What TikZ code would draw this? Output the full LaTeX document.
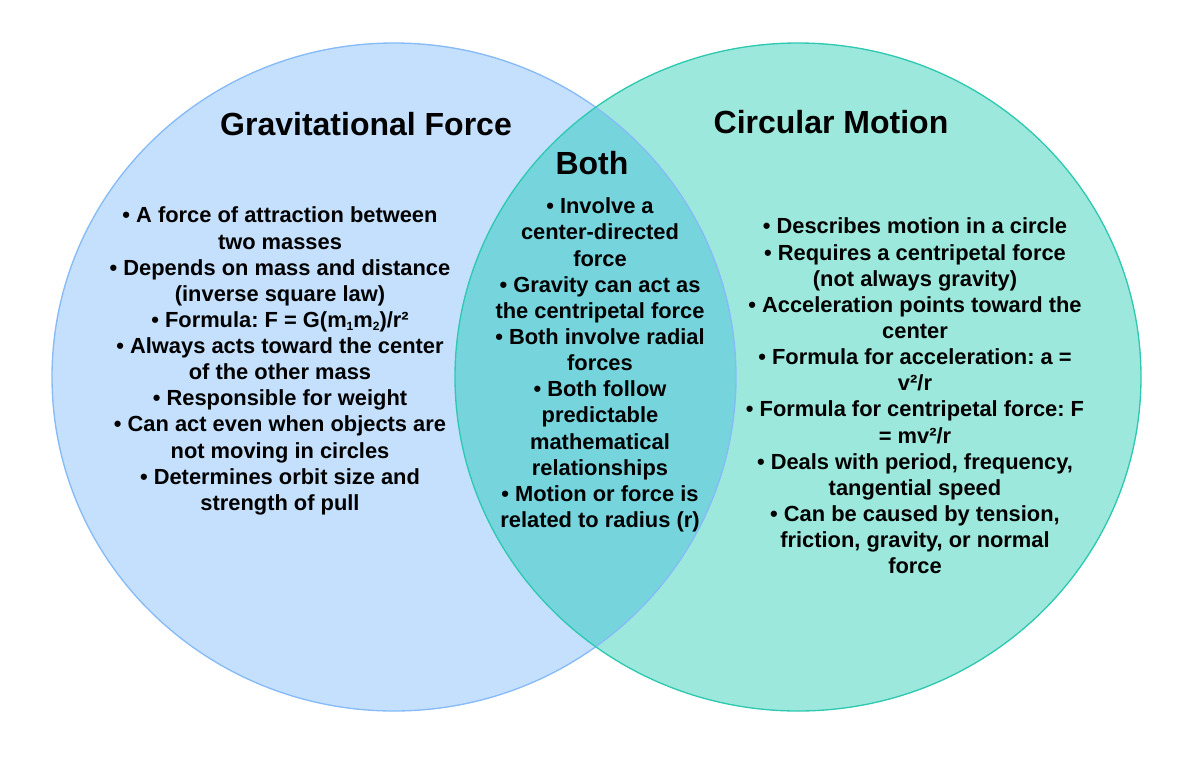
\documentclass[tikz,border=0pt]{standalone}
\usepackage{fontspec}
\setmainfont{Liberation Sans}
\frenchspacing
\definecolor{leftfill}{HTML}{C5E0FC}
\definecolor{leftline}{HTML}{86BBF7}
\definecolor{rightfill}{HTML}{9DE8DC}
\definecolor{rightline}{HTML}{2EC9B0}
\definecolor{bothfill}{HTML}{76D4DD}
\newcommand\sbs[1]{\raisebox{-0.3ex}{\fontsize{9}{9}\selectfont #1}}
\tikzset{
  titletext/.style={font=\fontsize{24}{27}\selectfont\bfseries, inner sep=0pt},
  bodytext/.style={font=\fontsize{16.4}{19.6}\selectfont\bfseries, align=center, inner sep=0pt},
}
\begin{document}
\begin{tikzpicture}[x=0.75pt,y=-0.75pt]
\useasboundingbox (0,0) rectangle (1200,776);
% fills
\fill[leftfill] (394,377) ellipse [x radius=342, y radius=334];
\fill[rightfill] (798,377) ellipse [x radius=343, y radius=334];
\begin{scope}
  \clip (394,377) ellipse [x radius=342, y radius=334];
  \fill[bothfill] (798,377) ellipse [x radius=343, y radius=334];
\end{scope}
% outlines
\draw[leftline, line width=1pt] (394,377) ellipse [x radius=342, y radius=334];
\draw[rightline, line width=1pt] (798,377) ellipse [x radius=343, y radius=334];
% titles
\node[titletext] (gtitle) at (366,124) {Gravitational Force};
\node[titletext] (btitle) at (592,163) {Both};
\node[titletext] (ctitle) at (831,122) {Circular Motion};
% bodies
\node[bodytext] (gbody) at (280,361) {%
• A force of attraction between\\
two masses\\
• Depends on mass and distance\\
(inverse square law)\\
• Formula: F = G(m\sbs{1}m\sbs{2})/r²\\
• Always acts toward the center\\
of the other mass\\
• Responsible for weight\\
• Can act even when objects are\\
not moving in circles\\
• Determines orbit size and\\
strength of pull};
\node[bodytext] (bbody) at (600,365) {%
• Involve a\\
center-directed\\
force\\
• Gravity can act as\\
the centripetal force\\
• Both involve radial\\
forces\\
• Both follow\\
predictable\\
mathematical\\
relationships\\
• Motion or force is\\
related to radius (r)};
\node[bodytext] (cbody) at (915,396) {%
• Describes motion in a circle\\
• Requires a centripetal force\\
(not always gravity)\\
• Acceleration points toward the\\
center\\
• Formula for acceleration: a =\\
v²/r\\
• Formula for centripetal force: F\\
= mv²/r\\
• Deals with period, frequency,\\
tangential speed\\
• Can be caused by tension,\\
friction, gravity, or normal\\
force};
\end{tikzpicture}
\end{document}
